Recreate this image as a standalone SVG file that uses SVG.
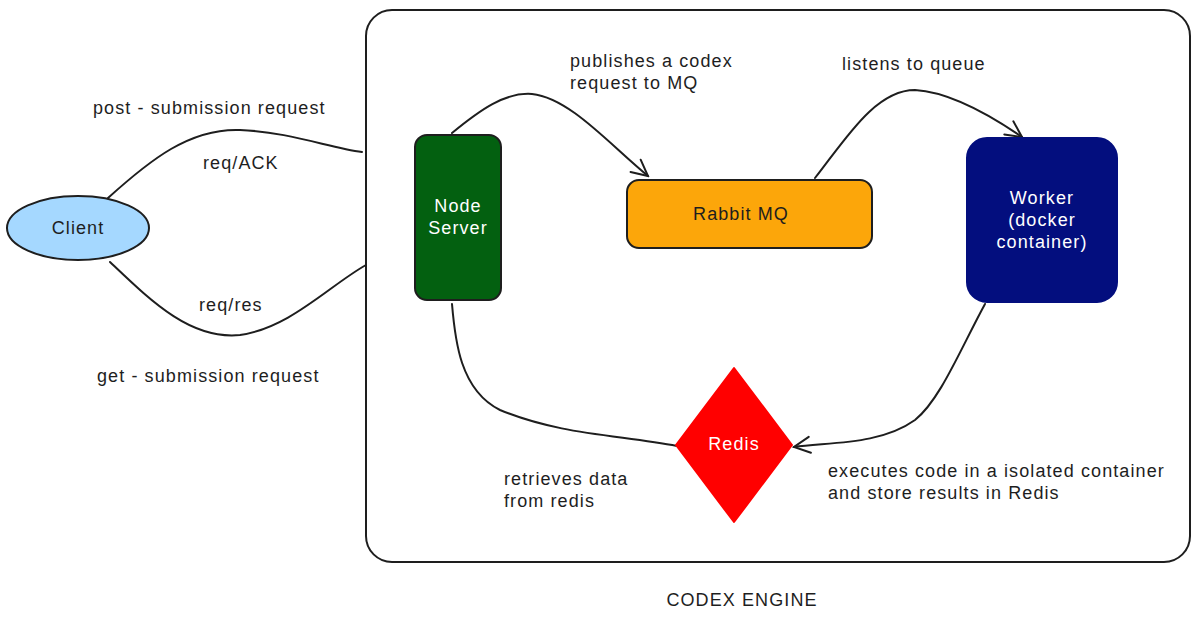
<svg xmlns="http://www.w3.org/2000/svg" width="1200" height="620" viewBox="0 0 1200 620">
<defs>
<style>
text{font-family:"Liberation Sans","DejaVu Sans",sans-serif;font-size:18px;letter-spacing:1.1px;fill:#1e1e1e}
.lbl{text-anchor:start}
.c{text-anchor:middle}
.w{fill:#ffffff}
.node{stroke:#1e1e1e;stroke-width:2}
.edge{fill:none;stroke:#1e1e1e;stroke-width:2;stroke-linecap:round}
</style>
<marker id="arr" viewBox="0 0 20 20" refX="18" refY="10" markerWidth="20" markerHeight="20" markerUnits="userSpaceOnUse" orient="auto">
<path d="M2,2 L18,10 L2,18" fill="none" stroke="#1e1e1e" stroke-width="2" stroke-linecap="round"/>
</marker>
</defs>
<rect width="1200" height="620" fill="#ffffff"/>
<g id="engine">
<rect x="366" y="10" width="824" height="552" rx="26" fill="none" stroke="#1e1e1e" stroke-width="2"/>
<text class="c" x="742" y="606">CODEX ENGINE</text>
</g>
<g id="connectors">
<path class="edge" d="M108,198 C150,160 190,128 240,130 C290,132 330,148 362,152"/>
<path class="edge" d="M110,262 C150,300 190,340 240,335 C290,328 330,285 366,265"/>
<path class="edge" marker-end="url(#arr)" d="M452,133 C480,110 505,92 532,94 C570,98 610,145 648,176"/>
<path class="edge" marker-end="url(#arr)" d="M815,178 C845,140 875,90 915,90 C950,92 990,115 1022,137"/>
<path class="edge" marker-end="url(#arr)" d="M985,304 C960,350 940,400 915,420 C880,445 830,442 794,447"/>
<path class="edge" d="M452,304 C455,340 460,390 500,410 C560,435 620,435 677,446"/>
</g>
<g id="labels">
<text class="lbl" x="93" y="114">post - submission request</text>
<text class="lbl" x="203" y="169">req/ACK</text>
<text class="lbl" x="199" y="311">req/res</text>
<text class="lbl" x="97" y="382">get - submission request</text>
<text class="lbl" x="570" y="67">publishes a codex</text>
<text class="lbl" x="570" y="89">request to MQ</text>
<text class="lbl" x="842" y="70">listens to queue</text>
<text class="lbl" x="504" y="485">retrieves data</text>
<text class="lbl" x="504" y="507">from redis</text>
<text class="lbl" x="828" y="477">executes code in a isolated container</text>
<text class="lbl" x="828" y="499">and store results in Redis</text>
</g>
<g id="client">
<ellipse class="node" cx="78" cy="228" rx="71" ry="32" fill="#a5d8ff"/>
<text class="c" x="78" y="234">Client</text>
</g>
<g id="node-server">
<rect class="node" x="415" y="135" width="86" height="165" rx="12" fill="#036010"/>
<text class="c w" x="458" y="212">Node</text>
<text class="c w" x="458" y="234">Server</text>
</g>
<g id="rabbit-mq">
<rect class="node" x="627" y="180" width="245" height="68" rx="12" fill="#fca60a"/>
<text class="c" x="741" y="220">Rabbit MQ</text>
</g>
<g id="worker">
<rect x="967" y="138" width="150" height="164" rx="20" fill="#030e7e" stroke="#030e7e" stroke-width="2"/>
<text class="c w" x="1042" y="204">Worker</text>
<text class="c w" x="1042" y="226">(docker</text>
<text class="c w" x="1042" y="248">container)</text>
</g>
<g id="redis">
<path d="M734,368 L792,445 L734,522 L676,445 Z" fill="#ff0000" stroke="#ff0000" stroke-width="2" stroke-linejoin="round"/>
<text class="c w" x="734" y="450">Redis</text>
</g>
</svg>
